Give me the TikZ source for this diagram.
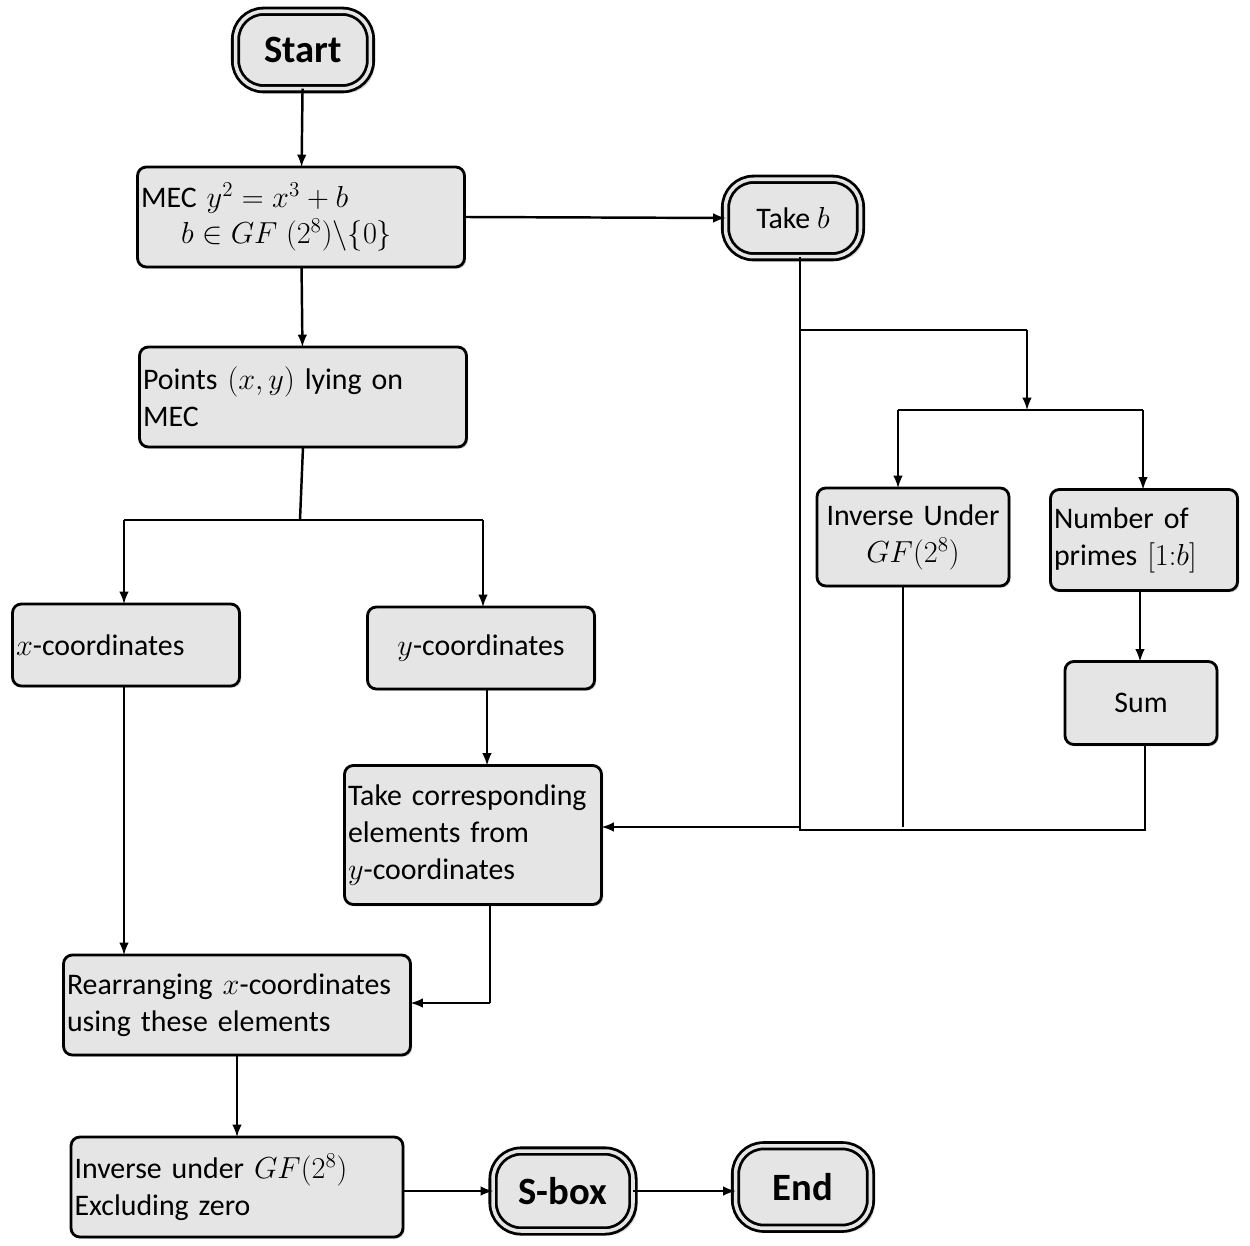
\documentclass[tikz,border=0pt]{standalone}
\usepackage{fontspec}
\setmainfont{Carlito}
\usepackage{amsmath}
\usetikzlibrary{arrows,positioning,shadows,calc}
\definecolor{boxgray}{rgb}{0.9,0.9,0.9}

\begin{document}
\begin{tikzpicture}[x=0.02cm,y=-0.02cm,outer sep=0pt,inner sep=2pt]
    \tikzset{box/.style={align=left,shape=rectangle,rounded corners=5pt,draw,line width=1.6pt,fill=boxgray,drop shadow={opacity=0.35,shadow xshift=1pt,shadow yshift=-1pt},font=\fontsize{17}{21}\selectfont,text width=#1}}
    \tikzset{term/.style={align=center,shape=rectangle,rounded corners=16pt,draw,line width=1.6pt,fill=boxgray,double=boxgray,double distance=2pt,drop shadow={opacity=0.35},font=\bfseries\fontsize{22}{26}\selectfont}}
    \tikzset{link/.style={line width=1.4pt,-latex}}
    \tikzset{line/.style={line width=1.4pt}}
    \useasboundingbox (0,0) rectangle (1250,1246);

    \node [term,minimum width=2.7cm,minimum height=1.55cm] (start) at (303,50) {Start};
    \node [box=6.4cm,minimum height=2cm] (mec) at (301,217) {MEC $y^2=x^3+b$\\\hspace*{0.8cm}$b\in GF\;(2^8)\backslash\{0\}$};
    \node [term,minimum width=2.7cm,minimum height=1.55cm,font=\fontsize{17}{21}\selectfont] (takeb) at (793,218) {Take $b$};
    \node [box=6.4cm,minimum height=2cm] (points) at (303,397) {Points $(x,y)$ lying on\\MEC};
    \node [box=4.4cm,minimum height=1.64cm] (xcoord) at (126,645) {$x$-coordinates};
    \node [box=4.4cm,minimum height=1.64cm,align=center] (ycoord) at (481,648) {$y$-coordinates\\[0.5cm]};
    \node [box=3.7cm,minimum height=1.96cm,align=center] (invb) at (913,537) {Inverse Under\\$GF(2^8)$};
    \node [box=3.6cm,minimum height=2.02cm] (primes) at (1144,540) {Number of\\primes $[1{:}b]$};
    \node [box=2.9cm,minimum height=1.66cm,align=center] (sum) at (1141,703) {Sum};
    \node [box=5cm,minimum height=2.78cm] (corr) at (473,835) {Take corresponding\\elements from\\$y$-coordinates};
    \node [box=6.8cm,minimum height=2cm] (rearr) at (237,1005) {Rearranging $x$-coordinates\\using these elements};
    \node [box=6.5cm,minimum height=2cm] (invx) at (237,1187) {Inverse under $GF(2^8)$\\Excluding zero};
    \node [term,minimum width=2.8cm,minimum height=1.6cm] (sbox) at (563,1191) {S-box};
    \node [term,minimum width=2.7cm,minimum height=1.65cm] (end) at (803,1187) {End};

    % junctions
    \coordinate (psplit) at (300,520);
    \coordinate (bsplit) at (800,330);
    \coordinate (isplit) at (1027,410);
    \coordinate (bjoin) at (800,827);
    \coordinate (ijoin) at (903,827);
    \coordinate (sjoin) at (1145,830);
    \coordinate (cjoin) at (490,1003);

    \draw [link] (start) -- (mec);
    \draw [link] (mec.east) -- (takeb.west);
    \draw [link] (mec) -- (points);
    \draw [line] (points.south) -- (psplit);
    \draw [line] (124,520) -- (483,520);
    \draw [link] (124,520) -- (xcoord.north -| 124,0);
    \draw [link] (483,520) -- (ycoord.north -| 483,0);
    \draw [line] (takeb.south -| bjoin) -- (bjoin);
    \draw [line] (bsplit) -- (1027,330);
    \draw [link] (1027,330) -- (isplit);
    \draw [line] (898,410) -- (1143,410);
    \draw [link] (898,410) -- (invb.north -| 898,0);
    \draw [link] (1143,410) -- (primes.north -| 1143,0);
    \draw [line] (invb.south -| ijoin) -- (ijoin);
    \draw [link] (primes.south -| 1140,0) -- (sum.north -| 1140,0);
    \draw [line] (sum.south -| sjoin) -- (sjoin) -- (bjoin |- sjoin) -- (bjoin);
    \draw [link] (bjoin) -- (corr.east |- bjoin);
    \draw [link] (ycoord.south -| 487,0) -- (corr.north -| 487,0);
    \draw [link] (xcoord.south -| 124,0) -- (rearr.north -| 124,0);
    \draw [line] (corr.south -| cjoin) -- (cjoin);
    \draw [link] (cjoin) -- (rearr.east |- cjoin);
    \draw [link] (rearr.south -| 237,0) -- (invx.north -| 237,0);
    \draw [link] (invx.east |- sbox) -- (sbox.west);
    \draw [link] (sbox.east) -- (end.west |- sbox);
\end{tikzpicture}
\end{document}
